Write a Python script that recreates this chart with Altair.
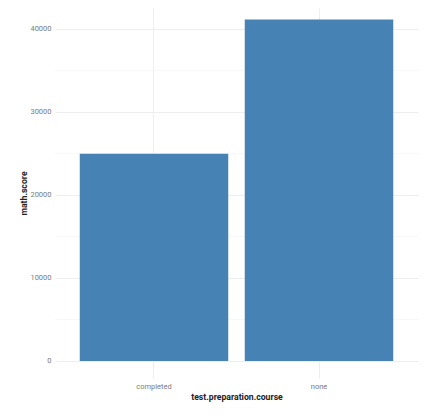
import altair as alt
import pandas as pd

categories = ["completed", "none"]
math_score = [24951, 41138]

df = pd.DataFrame({"course": categories, "score": math_score})

y_ticks = [0, 5000, 10000, 15000, 20000, 25000, 30000, 35000, 40000]

chart = alt.Chart(df).mark_bar(color="#4682B4").encode(
    x=alt.X(
        "course:N",
        title="test.preparation.course",
        scale=alt.Scale(paddingInner=0.1, paddingOuter=0.15),
        axis=alt.Axis(
            labelAngle=0,
            grid=True,
            bandPosition=0.5,
            gridColor="#EEEEEE",
            gridWidth=1,
            ticks=False,
            domain=False,
            labelPadding=4,
            labelFontSize=7.5,
            labelColor="#7A7A7A",
            titleFontSize=8.7,
            titleFontWeight="bold",
            titleColor="#222222",
            titlePadding=3,
        ),
    ),
    y=alt.Y(
        "score:Q",
        title="math.score",
        scale=alt.Scale(domain=[-2057, 42515], nice=False, zero=False),
        axis=alt.Axis(
            values=y_ticks,
            labelExpr="datum.value % 10000 === 0 ? datum.label : ''",
            format="d",
            grid=True,
            gridColor={"condition": {"test": "datum.value % 10000 === 0", "value": "#EEEEEE"}, "value": "#F5F5F5"},
            gridWidth={"condition": {"test": "datum.value % 10000 === 0", "value": 1}, "value": 0.7},
            ticks=False,
            domain=False,
            labelPadding=4,
            labelFontSize=7.5,
            labelColor="#7A7A7A",
            titleFontSize=8.7,
            titleFontWeight="bold",
            titleColor="#222222",
            titlePadding=1,
        ),
    ),
).properties(
    width=363,
    height=370,
    autosize=alt.AutoSizeParams(type="none"),
    padding={"left": 47, "top": 0, "right": 5, "bottom": 30},
).configure(
    font="Roboto"
).configure_view(
    stroke=None
)

chart.save("out.html", embed_options={"renderer": "svg", "actions": False})
